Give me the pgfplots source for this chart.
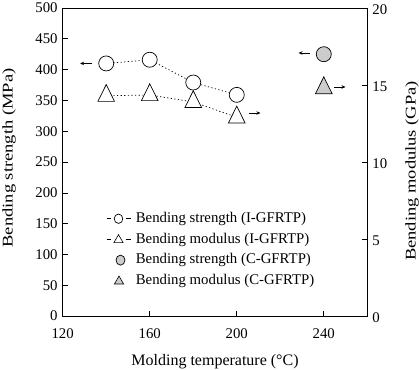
\documentclass[border=0pt]{standalone}
\usepackage{fontspec}
\setmainfont{Liberation Serif}
\usepackage{graphicx}
\usepackage{pgfplots}
\pgfplotsset{compat=1.18}
\usetikzlibrary{arrows.meta}
\newcommand{\chartfont}{\fontsize{14.8}{17}\selectfont}
\pgfplotsset{
  common/.style={
    width=304.6pt, height=308pt, scale only axis,
    xmin=120, xmax=260,
    tick align=inside, major tick length=5pt,
    /pgf/number format/assume math mode=true,
    tick label style={font=\chartfont},
    label style={font=\chartfont},
    axis line style={line width=0.6pt},
    every tick/.style={black, line width=0.6pt},
  },
  dotline/.style={black, line width=0.7pt, dash pattern=on 1.2pt off 2.4pt},
}
\begin{document}
\chartfont
\begin{tikzpicture}
\begin{axis}[common,
  ymin=0, ymax=500,
  ytick={0,50,...,500},
  xtick={120,160,200,240},
  xtick pos=bottom, ytick pos=left,
  xticklabel style={yshift=-8pt},
  xlabel={\fontsize{16}{18}\selectfont Molding temperature (°C)},
  ylabel={\scalebox{1.25}[1]{Bending strength (MPa)}},
  xlabel style={at={(axis description cs:0.5,-0.1484)}, anchor=center},
  ylabel style={at={(axis description cs:-0.176,0.513)}, anchor=center},
]
\coordinate (O) at (rel axis cs:0,0);
\addplot[dotline, mark=*, mark size=7.5pt, mark options={solid, fill=white, draw=black, line width=0.7pt}, forget plot]
  coordinates {(140,410) (160,416) (180,379) (200,359)};
\addplot[only marks, mark=*, mark size=7.5pt, mark options={fill=gray!40, draw=black, line width=0.7pt}, forget plot]
  coordinates {(240,425)};
\draw[-{Stealth[length=4pt,width=3.5pt]}, line width=0.7pt] (axis cs:133.5,410) -- (axis cs:128,410);
\draw[-{Stealth[length=4pt,width=3.5pt]}, line width=0.7pt] (axis cs:205.8,329.5) -- (axis cs:210.9,329.5);
\draw[-{Stealth[length=4pt,width=3.5pt]}, line width=0.7pt] (axis cs:233.5,427) -- (axis cs:228.4,427);
\draw[-{Stealth[length=4pt,width=3.5pt]}, line width=0.7pt] (axis cs:244.6,371.8) -- (axis cs:250,371.8);
\end{axis}
\begin{axis}[common,
  ymin=0, ymax=20,
  ytick={0,5,...,20},
  axis y line*=right, axis x line=none,
  yticklabel style={yshift=-2pt},
  ylabel={\scalebox{1.25}[1]{Bending modulus (GPa)}},
  ylabel style={at={(axis description cs:1.1468,0.471)}, anchor=center},
  legend style={at={(rel axis cs:0.142,0.34)}, anchor=north west, draw=none, fill=none,
    font=\chartfont, row sep=6.2pt, column sep=5pt, inner sep=0pt,
    nodes={inner sep=0pt, text height=11pt, text depth=3.5pt}},
  legend cell align=left,
]
\addlegendimage{legend image code/.code={%
  \draw[black, line width=0.7pt] (0pt,0pt)--(4pt,0pt) (19pt,0pt)--(24pt,0pt);
  \draw[black, line width=0.7pt, fill=white] (12pt,0pt) circle[x radius=4.3pt, y radius=4.7pt];}}
\addlegendentry{Bending strength (I-GFRTP)}
\addlegendimage{legend image code/.code={%
  \draw[black, line width=0.7pt] (0pt,0pt)--(4pt,0pt) (19pt,0pt)--(24pt,0pt);
  \path[draw=black, line width=0.6pt] plot[mark=triangle, mark size=5.3pt] coordinates {(12pt,-0.5pt)};}}
\addlegendentry{Bending modulus (I-GFRTP)}
\addlegendimage{legend image code/.code={%
  \path[draw=none, fill=none] (0pt,0pt) rectangle (24pt,0.1pt);
  \draw[black, line width=0.7pt, fill=gray!40] (14pt,0pt) circle[x radius=4.5pt, y radius=5pt];}}
\addlegendentry{Bending strength (C-GFRTP)}
\addlegendimage{legend image code/.code={%
  \path[draw=none, fill=none] (0pt,0pt) rectangle (24pt,0.1pt);
  \path[draw=black, line width=0.6pt, fill=gray!40] plot[mark=triangle*, mark size=5.3pt] coordinates {(12.5pt,-0.5pt)};}}
\addlegendentry{Bending modulus (C-GFRTP)}
\addplot[dotline, mark=triangle*, mark size=9.6pt, mark options={solid, fill=white, draw=black, line width=0.7pt, yscale=1.17}, forget plot]
  coordinates {(140,14.3) (160,14.35) (180,13.9) (200,12.9)};
\addplot[only marks, mark=triangle*, mark size=9.6pt, mark options={fill=gray!40, draw=black, line width=0.7pt, yscale=1.17}, forget plot]
  coordinates {(240,14.8)};
\end{axis}
\pgfresetboundingbox
\path[use as bounding box] ([shift={(-62.7pt,-53pt)}]O) rectangle ([shift={(356.3pt,316pt)}]O);
\end{tikzpicture}
\end{document}
